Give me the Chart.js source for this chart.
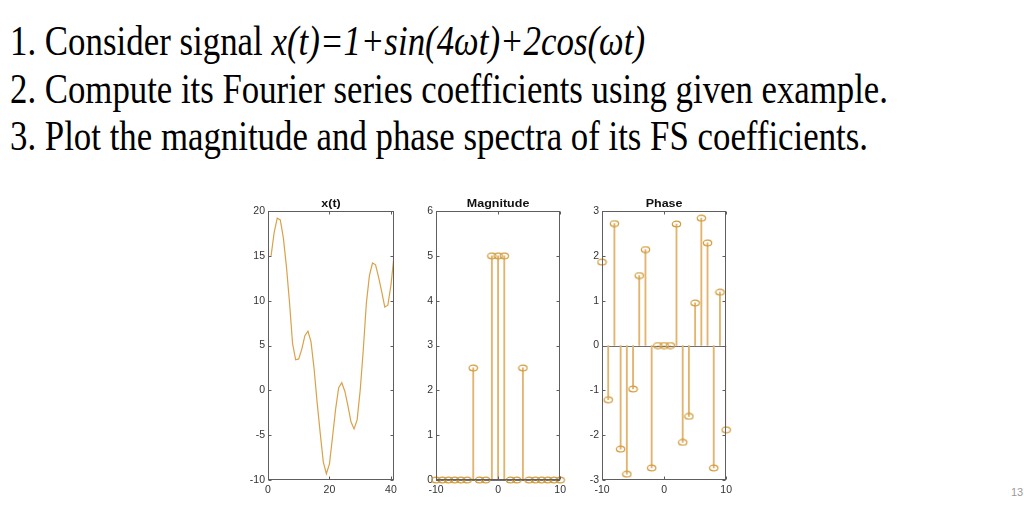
<!DOCTYPE html>
<html>
<head>
<meta charset="utf-8">
<script src="https://cdn.jsdelivr.net/npm/chart.js@4.4.0/dist/chart.umd.min.js"></script>
<style>
  html, body { margin: 0; padding: 0; background: #fff; width: 1024px; height: 522px; overflow: hidden; }
  .line {
    position: absolute; left: 10px;
    font-family: "Liberation Serif", "Times New Roman", serif;
    font-size: 43px; line-height: 44px; white-space: nowrap;
    transform-origin: 0 0; color: #000;
  }
  .line i { font-style: italic; }
  .box { position: absolute; top: 190px; width: 174px; height: 312px; }
  #pageNo { position: absolute; left: 1011px; top: 486px; font: 11px "Liberation Sans", Arial, sans-serif; color: #9a9a9a; }
</style>
</head>
<body>
<div class="line" data-w="635" style="top:19px">1. Consider signal <i>x(t)=1+sin(4ωt)+2cos(ωt)</i></div>
<div class="line" data-w="878" style="top:67px">2. Compute its Fourier series coefficients using given example.</div>
<div class="line" data-w="858" style="top:114px">3. Plot the magnitude and phase spectra of its FS coefficients.</div>

<div class="box" style="left:228px"><canvas id="signalChart"></canvas></div>
<div class="box" style="left:396px"><canvas id="magChart"></canvas></div>
<div class="box" style="left:562px"><canvas id="phaseChart"></canvas></div>
<div id="pageNo">13</div>

<script>
// x(t) samples
const timeIdx = [1, 2, 3, 4, 5, 6, 7, 8, 9, 10, 11, 12, 13, 14, 15, 16, 17, 18, 19, 20,
                 21, 22, 23, 24, 25, 26, 27, 28, 29, 30, 31, 32, 33, 34, 35, 36, 37, 38, 39, 40, 41];
const signalVals = [15.0, 17.6, 19.2, 19.0, 17.0, 13.8, 9.8, 5.2, 3.4, 3.5,
                    4.6, 6.1, 6.6, 5.4, 2.4, -1.4, -4.8, -8.0, -9.3, -8.2,
                    -5.2, -2.1, 0.3, 0.85, -0.1, -1.7, -3.5, -4.3, -3.3, 0.0,
                    4.5, 9.7, 12.8, 14.2, 14.0, 12.6, 11.0, 9.3, 9.5, 11.7, 15.0];

// FS coefficients k = -10..10
const harmonics = [-10, -9, -8, -7, -6, -5, -4, -3, -2, -1, 0, 1, 2, 3, 4, 5, 6, 7, 8, 9, 10];
const magnitudeVals = [0, 0, 0, 0, 0, 0, 2.5, 0, 0, 5, 5, 5, 0, 0, 2.5, 0, 0, 0, 0, 0, 0];
const phaseVals = [1.86, -1.21, 2.72, -2.31, -2.87, -0.97, 1.56, 2.14, -2.73, 0, 0, 0,
                   2.71, -2.16, -1.58, 0.95, 2.84, 2.29, -2.73, 1.19, -1.88];

const timeTicks = [0, 20, 40];
const signalTicks = [-10, -5, 0, 5, 10, 15, 20];
const harmonicTicks = [-10, 0, 10];
const magnitudeTicks = [0, 1, 2, 3, 4, 5, 6];
const phaseTicks = [-3, -2, -1, 0, 1, 2, 3];

const lineColor = '#d9a24a';
const stemColor = '#e2b46e';
const markColor = '#d39c3e';
const tickFont = { family: '"Liberation Sans", Arial, sans-serif', size: 10.5 };

// squeeze the slide text to the widths in the picture
document.querySelectorAll('.line').forEach(el => {
    const w = el.getBoundingClientRect().width;
    el.style.transform = `scaleX(${el.dataset.w / w})`;
});

function ellipseMarker(color) {
    const c = document.createElement('canvas');
    c.width = 11; c.height = 8;
    const g = c.getContext('2d');
    g.strokeStyle = color;
    g.lineWidth = 1.2;
    g.beginPath();
    g.ellipse(5.5, 4, 4.2, 2.9, 0, 0, Math.PI * 2);
    g.stroke();
    return c;
}
const marker = ellipseMarker(markColor);

// MATLAB-ish box: frame, inward ticks, stem baseline, stretched bold title
const matlabAxes = {
    id: 'matlabAxes',
    beforeDatasetsDraw(chart, args, opts) {
        if (!opts.baseline) return;
        const { ctx, chartArea: a, scales: { y } } = chart;
        const yb = Math.round(y.getPixelForValue(0)) + 0.5;
        ctx.save();
        ctx.strokeStyle = '#707070';
        ctx.lineWidth = 1;
        ctx.beginPath();
        ctx.moveTo(a.left, yb);
        ctx.lineTo(a.right, yb);
        ctx.stroke();
        ctx.restore();
    },
    afterDraw(chart, args, opts) {
        const { ctx, chartArea: a, scales: { x, y } } = chart;
        const L = Math.round(a.left) + 0.5, R = Math.round(a.right) - 0.5;
        const T = Math.round(a.top) + 0.5, B = Math.round(a.bottom) - 0.5;
        ctx.save();
        ctx.strokeStyle = '#5e5e5e';
        ctx.lineWidth = 1;
        ctx.strokeRect(L, T, R - L, B - T);
        ctx.beginPath();
        x.ticks.forEach(t => {
            const px = Math.round(x.getPixelForValue(t.value)) + 0.5;
            ctx.moveTo(px, B); ctx.lineTo(px, B - 3);
            ctx.moveTo(px, T); ctx.lineTo(px, T + 3);
        });
        y.ticks.forEach(t => {
            const py = Math.round(y.getPixelForValue(t.value)) + 0.5;
            ctx.moveTo(L, py); ctx.lineTo(L + 3, py);
            ctx.moveTo(R, py); ctx.lineTo(R - 3, py);
        });
        ctx.stroke();

        ctx.fillStyle = '#111';
        ctx.font = 'bold 10px "Liberation Sans", Arial, sans-serif';
        ctx.textAlign = 'center';
        ctx.translate((a.left + a.right) / 2, a.top - 4);
        ctx.scale(1.25, 1);
        ctx.fillText(opts.title, 0, 0);
        ctx.restore();
    }
};

function axis(min, max, ticks, isX) {
    return {
        type: 'linear', min, max, offset: false,
        grid: { display: false, drawTicks: false },
        border: { display: false },
        ticks: { font: tickFont, color: '#333', padding: isX ? 4 : 3, autoSkip: false, maxRotation: 0 },
        afterBuildTicks: s => { s.ticks = ticks.map(v => ({ value: v })); },
        afterFit: s => { if (isX) s.height = 22; else s.width = 40; }
    };
}

function makeChart(id, datasets, xr, yr, title, baseline) {
    return new Chart(document.getElementById(id), {
        type: 'scatter',
        data: { datasets },
        options: {
            responsive: true,
            maintainAspectRatio: false,
            animation: false,
            layout: { padding: { top: 21, right: 8, left: 0, bottom: 0 } },
            scales: { x: axis(xr[0], xr[1], xr[2], true), y: axis(yr[0], yr[1], yr[2], false) },
            plugins: {
                legend: { display: false },
                tooltip: { enabled: false },
                matlabAxes: { title, baseline }
            }
        },
        plugins: [matlabAxes]
    });
}

function stemSets(values) {
    const pts = harmonics.map((k, i) => ({ x: k, y: values[i] }));
    return [
        { type: 'bar', data: pts, backgroundColor: stemColor, barThickness: 1.2, borderWidth: 0, order: 1 },
        { type: 'scatter', data: pts, pointStyle: marker, pointRadius: 4, showLine: false, clip: false, order: 0 }
    ];
}

makeChart('signalChart', [{
    type: 'line',
    data: timeIdx.map((t, i) => ({ x: t, y: signalVals[i] })),
    borderColor: lineColor, borderWidth: 1.2, pointRadius: 0, tension: 0, fill: false
}], [0, 41, timeTicks], [-10, 20, signalTicks], 'x(t)', false);

makeChart('magChart', stemSets(magnitudeVals), [-10, 10, harmonicTicks], [0, 6, magnitudeTicks], 'Magnitude', true);

makeChart('phaseChart', stemSets(phaseVals), [-10, 10, harmonicTicks], [-3, 3, phaseTicks], 'Phase', true);
</script>
</body>
</html>
